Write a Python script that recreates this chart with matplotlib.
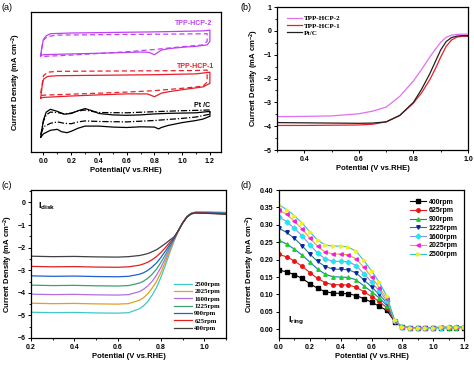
import numpy as np
import matplotlib
matplotlib.use("Agg")
import matplotlib.pyplot as plt
from matplotlib.ticker import MultipleLocator, FormatStrFormatter

plt.rcParams['font.family'] = ['Liberation Sans', 'DejaVu Sans']
plt.rcParams['font.weight'] = 'bold'
plt.rcParams['axes.labelweight'] = 'bold'
plt.rcParams['mathtext.fontset'] = 'custom'
plt.rcParams['mathtext.rm'] = 'Liberation Sans'
plt.rcParams['mathtext.bf'] = 'Liberation Sans:bold'
plt.rcParams['mathtext.default'] = 'bf'

# ---------------- (a) CV curves (arbitrary offset units) ----------------
hcp2_up_x = [-0.02, -0.01, 0.0, 0.02, 0.05, 0.2, 0.5, 0.8, 1.0, 1.15, 1.2]
hcp2_up_y = [69, 76, 80.5, 83, 84.5, 85, 85.4, 85.8, 86.2, 86.5, 87]
hcp2_lo_x = [1.2, 1.18, 1.1, 1.0, 0.9, 0.85, 0.8, 0.76, 0.7, 0.5, 0.3, 0.1, 0.0, -0.02]
hcp2_lo_y = [79, 76.5, 75.5, 74.8, 73.8, 72.8, 69.5, 71.2, 71.4, 70.8, 70.3, 69.8, 69.5, 69]
hcp2_dup_x = [-0.02, -0.01, 0.0, 0.03, 0.1, 0.4, 0.8, 1.1, 1.18]
hcp2_dup_y = [68, 75, 80, 82.5, 83.5, 83.8, 84.1, 84.4, 84.5]
hcp2_dlo_x = [1.18, 1.15, 1.0, 0.8, 0.6, 0.4, 0.2, 0.0, -0.02]
hcp2_dlo_y = [79, 76.5, 75.2, 73.2, 71.6, 70.4, 69.2, 68.3, 68]

hcp1_up_x = [-0.02, -0.01, 0.0, 0.03, 0.1, 0.4, 0.8, 1.1, 1.2]
hcp1_up_y = [38.5, 47, 52, 54, 54.5, 54.8, 55.2, 55.8, 57]
hcp1_lo_x = [1.2, 1.15, 1.0, 0.9, 0.85, 0.8, 0.75, 0.6, 0.4, 0.2, 0.0, -0.02]
hcp1_lo_y = [49, 46.5, 44.5, 43, 42, 39.5, 41.5, 41.5, 40.8, 40, 39, 38.5]
hcp1_dup_x = [-0.02, 0.0, 0.03, 0.1, 0.4, 0.8, 1.1, 1.18]
hcp1_dup_y = [42, 54.5, 57, 57.6, 57.8, 58, 58.2, 58.5]
hcp1_dlo_x = [1.18, 1.15, 1.0, 0.8, 0.6, 0.4, 0.2, 0.0, -0.02]
hcp1_dlo_y = [50, 47, 45.5, 43.8, 42.8, 42, 41.3, 40.6, 40.2]

pt_up_x = [-0.02, -0.01, 0.0, 0.02, 0.05, 0.1, 0.15, 0.2, 0.25, 0.3, 0.35, 0.4,
           0.5, 0.6, 0.7, 0.8, 0.9, 1.0, 1.1, 1.2]
pt_up_y = [10.5, 17, 23, 28.5, 30.5, 29, 27, 27.5, 29.5, 31, 29.5, 27.5,
           26.5, 26.2, 26.5, 27.2, 27.6, 27.8, 28, 29]
pt_lo_x = [1.2, 1.15, 1.1, 1.0, 0.9, 0.85, 0.83, 0.8, 0.7, 0.6, 0.5, 0.4, 0.3,
           0.25, 0.2, 0.17, 0.13, 0.1, 0.05, 0.0, -0.02]
pt_lo_y = [25.5, 23.5, 22.5, 21, 19, 17.5, 16.5, 17.8, 18, 17.5, 17.8, 18.5, 18.5,
           17, 14.8, 13.8, 14.5, 16.2, 15.5, 13, 10.5]
pt_dup_x = [-0.02, 0.0, 0.02, 0.05, 0.1, 0.15, 0.2, 0.25, 0.3, 0.35, 0.4, 0.6, 0.8, 1.0, 1.2]
pt_dup_y = [12, 22, 26.5, 28.5, 28.2, 27.2, 27.8, 29.3, 30, 29, 28.2, 28, 28.8, 29.5, 30]
pt_dlo_x = [1.2, 1.1, 1.0, 0.8, 0.6, 0.4, 0.3, 0.25, 0.2, 0.15, 0.1, 0.05, 0.0, -0.02]
pt_dlo_y = [27, 25, 24, 22.5, 21.5, 21.8, 22.2, 21.5, 20.2, 20.5, 21.5, 20.5, 18, 12]

# ---------------- (b) LSV comparison ----------------
lsv_x = [0.3, 0.4, 0.5, 0.6, 0.65, 0.7, 0.75, 0.8, 0.83, 0.86, 0.88, 0.9, 0.92, 0.94, 0.96, 0.98, 1.0]
lsv_hcp2 = [-3.6, -3.59, -3.57, -3.48, -3.37, -3.2, -2.75, -2.1, -1.62, -1.1, -0.78, -0.48,
            -0.27, -0.18, -0.15, -0.14, -0.14]
lsv_hcp1 = [-3.97, -3.97, -3.96, -3.95, -3.92, -3.82, -3.55, -3.03, -2.6, -2.05, -1.6, -1.1,
            -0.65, -0.38, -0.26, -0.23, -0.23]
lsv_ptc = [-3.85, -3.86, -3.87, -3.88, -3.87, -3.82, -3.55, -3.0, -2.45, -1.8, -1.3, -0.8,
           -0.45, -0.28, -0.22, -0.2, -0.2]

# ---------------- (c) disk current at various rpm ----------------
disk_x = [0.2, 0.3, 0.4, 0.5, 0.6, 0.65, 0.7, 0.72, 0.74, 0.76, 0.78, 0.8, 0.82, 0.84, 0.86,
          0.88, 0.9, 0.92, 0.94, 0.96, 1.0, 1.05, 1.1]
disk_rpm = ['2500rpm', '2025rpm', '1600rpm', '1225rpm', '900rpm', '625rpm', '400rpm']
disk_2500 = [-4.86, -4.88, -4.87, -4.89, -4.9, -4.88, -4.71, -4.57, -4.37, -4.09, -3.75, -3.30,
             -2.79, -2.24, -1.72, -1.25, -0.9, -0.62, -0.48, -0.43, -0.42, -0.43, -0.44]
disk_2025 = [-4.46, -4.48, -4.47, -4.49, -4.5, -4.48, -4.33, -4.21, -4.03, -3.78, -3.48, -3.09,
             -2.63, -2.15, -1.69, -1.25, -0.9, -0.62, -0.48, -0.43, -0.43, -0.44, -0.45]
disk_1600 = [-4.06, -4.08, -4.07, -4.09, -4.1, -4.08, -3.95, -3.84, -3.69, -3.48, -3.21, -2.87,
             -2.48, -2.05, -1.66, -1.25, -0.9, -0.62, -0.48, -0.44, -0.44, -0.45, -0.46]
disk_1225 = [-3.66, -3.68, -3.67, -3.69, -3.7, -3.68, -3.57, -3.48, -3.35, -3.17, -2.94, -2.65,
             -2.32, -1.96, -1.63, -1.25, -0.9, -0.62, -0.48, -0.44, -0.45, -0.46, -0.47]
disk_900 = [-3.25, -3.27, -3.26, -3.28, -3.29, -3.27, -3.18, -3.11, -3.0, -2.85, -2.67, -2.43,
            -2.16, -1.87, -1.6, -1.25, -0.9, -0.63, -0.49, -0.45, -0.46, -0.47, -0.49]
disk_625 = [-2.83, -2.85, -2.84, -2.86, -2.87, -2.85, -2.78, -2.72, -2.64, -2.53, -2.39, -2.21,
            -2.0, -1.77, -1.56, -1.25, -0.91, -0.64, -0.5, -0.46, -0.47, -0.49, -0.51]
disk_400 = [-2.38, -2.4, -2.39, -2.41, -2.42, -2.4, -2.35, -2.31, -2.26, -2.18, -2.09, -1.96,
            -1.82, -1.67, -1.53, -1.25, -0.92, -0.65, -0.51, -0.47, -0.48, -0.5, -0.53]

# ---------------- (d) ring current at various rpm ----------------
ring_x = [0.0, 0.05, 0.1, 0.15, 0.2, 0.25, 0.3, 0.35, 0.4, 0.45, 0.5, 0.55, 0.6, 0.65, 0.7,
          0.75, 0.8, 0.85, 0.9, 0.95, 1.0, 1.05, 1.1, 1.15, 1.2]
ring_rpm = ['400rpm', '625rpm', '900rpm', '1225rpm', '1600rpm', '2025rpm', '2500rpm']
ring_400 = [0.170, 0.165, 0.157, 0.146, 0.131, 0.118, 0.108, 0.104, 0.103, 0.102, 0.097, 0.088,
            0.078, 0.066, 0.054, 0.022, 0.006, 0.005, 0.005, 0.005, 0.005, 0.005, 0.005, 0.005, 0.005]
ring_625 = [0.215, 0.208, 0.196, 0.181, 0.163, 0.146, 0.134, 0.128, 0.128, 0.127, 0.121, 0.108,
            0.094, 0.080, 0.062, 0.023, 0.006, 0.005, 0.005, 0.005, 0.005, 0.005, 0.005, 0.005, 0.005]
ring_900 = [0.255, 0.245, 0.230, 0.213, 0.193, 0.173, 0.158, 0.151, 0.150, 0.149, 0.142, 0.125,
            0.108, 0.090, 0.068, 0.024, 0.006, 0.005, 0.005, 0.005, 0.005, 0.005, 0.005, 0.005, 0.006]
ring_1225 = [0.290, 0.278, 0.261, 0.240, 0.216, 0.195, 0.180, 0.173, 0.172, 0.171, 0.162, 0.142,
             0.122, 0.100, 0.075, 0.024, 0.006, 0.005, 0.005, 0.005, 0.005, 0.005, 0.005, 0.006, 0.006]
ring_1600 = [0.323, 0.309, 0.290, 0.268, 0.243, 0.219, 0.202, 0.195, 0.195, 0.194, 0.183, 0.160,
             0.136, 0.110, 0.082, 0.025, 0.006, 0.005, 0.005, 0.005, 0.005, 0.005, 0.006, 0.006, 0.006]
ring_2025 = [0.343, 0.330, 0.310, 0.288, 0.262, 0.238, 0.222, 0.216, 0.216, 0.214, 0.202, 0.178,
             0.150, 0.120, 0.088, 0.025, 0.007, 0.005, 0.005, 0.005, 0.005, 0.006, 0.006, 0.006, 0.007]
ring_2500 = [0.357, 0.344, 0.326, 0.305, 0.280, 0.256, 0.242, 0.239, 0.239, 0.236, 0.224, 0.198,
             0.168, 0.135, 0.095, 0.026, 0.007, 0.005, 0.005, 0.005, 0.005, 0.006, 0.006, 0.007, 0.007]

W, H = 474, 366
fig = plt.figure(figsize=(W / 100, H / 100), dpi=100)


def px_axes(l, t, r, b):
    return fig.add_axes([l / W, 1 - b / H, (r - l) / W, (b - t) / H])


def style(ax):
    for s in ax.spines.values():
        s.set_linewidth(0.9)
    ax.tick_params(which='major', direction='out', length=2.5, width=0.7, labelsize=5, pad=1.5)
    ax.tick_params(which='minor', direction='out', length=1.5, width=0.6)
    for lab in ax.get_xticklabels() + ax.get_yticklabels():
        lab.set_fontweight('bold')


ylab = 'Current Density (mA cm$^{-2}$)'

# ============ (a) ============
ax = px_axes(31, 12, 221, 152)
ax.plot(hcp2_up_x + hcp2_lo_x, hcp2_up_y + hcp2_lo_y, color='#c040f0', lw=0.9)
ax.plot(hcp2_dup_x + hcp2_dlo_x, hcp2_dup_y + hcp2_dlo_y, color='#c040f0', lw=0.9, ls=(0, (4, 2.5)))
ax.plot(hcp1_up_x + hcp1_lo_x, hcp1_up_y + hcp1_lo_y, color='#e8202a', lw=0.9)
ax.plot(hcp1_dup_x + hcp1_dlo_x, hcp1_dup_y + hcp1_dlo_y, color='#e8202a', lw=0.9, ls=(0, (4, 2.5)))
ax.plot(pt_up_x + pt_lo_x, pt_up_y + pt_lo_y, color='black', lw=0.9)
ax.plot(pt_dup_x + pt_dlo_x, pt_dup_y + pt_dlo_y, color='black', lw=0.9, ls=(0, (5, 1.5, 1, 1.5)))
ax.text(1.22, 89, 'TPP-HCP-2', color='#c040f0', fontsize=5, fontweight='bold', ha='right', va='bottom')
ax.text(1.23, 58.5, 'TPP-HCP-1', color='#e8202a', fontsize=5, fontweight='bold', ha='right', va='bottom')
ax.text(1.2, 30.5, 'Pt /C', color='black', fontsize=5, fontweight='bold', ha='right', va='bottom')
ax.set_xlim(-0.09, 1.28)
ax.set_ylim(0, 100)
ax.xaxis.set_major_locator(MultipleLocator(0.2))
ax.xaxis.set_minor_locator(MultipleLocator(0.1))
ax.xaxis.set_major_formatter(FormatStrFormatter('%.1f'))
ax.set_yticks([])
ax.set_xlabel('Potential(V vs.RHE)', fontsize=5.5, labelpad=2)
ax.set_ylabel(ylab, fontsize=5.5, labelpad=6)
style(ax)

# ============ (b) ============
ax = px_axes(277, 7, 468, 150)
ax.plot(lsv_x, lsv_hcp2, color='#e070f0', lw=0.9, label='TPP-HCP-2')
ax.plot(lsv_x, lsv_hcp1, color='#e8202a', lw=0.9, label='TPP-HCP-1')
ax.plot(lsv_x, lsv_ptc, color='#202020', lw=0.9, label='Pt/C')
ax.set_xlim(0.3, 1.0)
ax.set_ylim(-5, 1)
ax.xaxis.set_major_locator(MultipleLocator(0.2))
ax.xaxis.set_minor_locator(MultipleLocator(0.1))
ax.xaxis.set_major_formatter(FormatStrFormatter('%.1f'))
ax.yaxis.set_major_locator(MultipleLocator(1))
ax.yaxis.set_minor_locator(MultipleLocator(0.5))
ax.set_xlabel('Potential (V vs.RHE)', fontsize=5.5, labelpad=2)
ax.set_ylabel(ylab, fontsize=5.5, labelpad=2)
ax.legend(loc='upper left', bbox_to_anchor=(0.03, 0.97), frameon=False,
          prop={'family': 'Liberation Serif', 'weight': 'bold', 'size': 5},
          handlelength=2.2, handletextpad=0.3, labelspacing=0.2, borderaxespad=0.2)
style(ax)

# ============ (c) ============
ax = px_axes(31, 190, 226, 338)
disk_series = [disk_2500, disk_2025, disk_1600, disk_1225, disk_900, disk_625, disk_400]
disk_colors = ['#40c8c8', '#e0a020', '#b070e0', '#3ca070', '#2060d0', '#e02020', '#404040']
for lab, ys, c in zip(disk_rpm, disk_series, disk_colors):
    ax.plot(disk_x, ys, color=c, lw=0.9, label=lab)
ax.text(0.23, 0.1, 'I$_{disk}$', fontsize=6.5, fontweight='bold', va='top')
ax.set_xlim(0.2, 1.1)
ax.set_ylim(-6, 0.55)
ax.xaxis.set_major_locator(MultipleLocator(0.2))
ax.xaxis.set_minor_locator(MultipleLocator(0.1))
ax.xaxis.set_major_formatter(FormatStrFormatter('%.1f'))
ax.yaxis.set_major_locator(MultipleLocator(1))
ax.yaxis.set_minor_locator(MultipleLocator(0.5))
ax.set_xlabel('Potential (V vs.RHE)', fontsize=5.5, labelpad=2)
ax.set_ylabel(ylab, fontsize=5.5, labelpad=2)
ax.legend(loc='lower right', bbox_to_anchor=(0.99, 0.02), frameon=False,
          prop={'family': 'Liberation Serif', 'weight': 'bold', 'size': 4.8},
          handlelength=2.6, handletextpad=0.4, labelspacing=0.25, borderaxespad=0.2)
style(ax)

# ============ (d) ============
ax = px_axes(279, 190, 464, 338)
ring_series = [ring_400, ring_625, ring_900, ring_1225, ring_1600, ring_2025, ring_2500]
ring_lines = ['black', '#e02020', '#2070d0', '#208080', '#9090f0', '#f0a030', '#30c0d0']
ring_marks = ['black', '#f01010', '#20d020', '#1020a0', '#20e8f0', '#f020e0', '#f0f020']
ring_shapes = ['s', 'o', '^', 'v', 'D', '<', '>']
for lab, ys, lc, mc, m in zip(ring_rpm, ring_series, ring_lines, ring_marks, ring_shapes):
    ax.plot(ring_x, ys, color=lc, lw=0.8, marker=m, ms=2.5, mfc=mc, mec=mc, label=lab)
ax.text(0.06, 0.04, 'I$_{ring}$', fontsize=6.5, fontweight='bold', va='top')
ax.set_xlim(0, 1.2)
ax.set_ylim(-0.025, 0.40)
ax.xaxis.set_major_locator(MultipleLocator(0.2))
ax.xaxis.set_minor_locator(MultipleLocator(0.1))
ax.xaxis.set_major_formatter(FormatStrFormatter('%.1f'))
ax.yaxis.set_major_locator(MultipleLocator(0.05))
ax.yaxis.set_major_formatter(FormatStrFormatter('%.2f'))
ax.set_xlabel('Potential (V vs.RHE)', fontsize=5.5, labelpad=2)
ax.set_ylabel(ylab, fontsize=5.5, labelpad=2)
ax.legend(loc='upper right', bbox_to_anchor=(0.99, 0.97), frameon=False,
          prop={'weight': 'bold', 'size': 5}, handlelength=2.4, handletextpad=0.4,
          labelspacing=0.25, borderaxespad=0.2)
style(ax)

for lab, x, y in [('(a)', 2, 8), ('(b)', 240, 8), ('(c)', 2, 186), ('(d)', 240, 186)]:
    fig.text(x / W, 1 - y / H, lab, fontsize=6.5, fontweight='normal', va='center', ha='left')

fig.savefig('out.png', dpi=100)
